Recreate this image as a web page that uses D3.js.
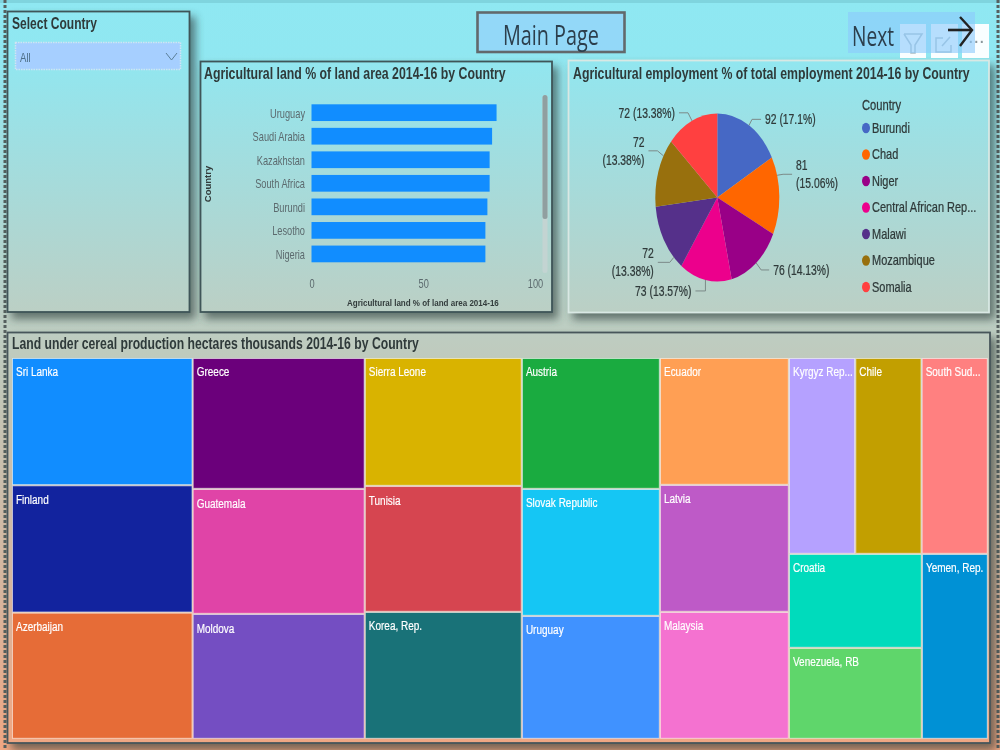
<!DOCTYPE html>
<html><head><meta charset="utf-8">
<script src="https://cdn.jsdelivr.net/npm/d3@7"></script>
<style>
html,body{margin:0;padding:0;background:#8fe8f2;overflow:hidden}
svg{display:block;filter:blur(0.35px)}
text{font-family:"Liberation Sans",sans-serif}
.light{font-family:"Open Sans","Noto Sans",sans-serif;font-weight:400}
</style></head><body>
<script>
// ---------- data ----------
const barCountries = ["Uruguay","Saudi Arabia","Kazakhstan","South Africa","Burundi","Lesotho","Nigeria"];
const barValues = [82.8,80.8,79.7,79.7,78.7,77.8,77.8];
const barTicks = [0,50,100];
const pieCountries = ["Burundi","Chad","Niger","Central African Rep...","Malawi","Mozambique","Somalia"];
const pieValues = [92,81,76,73,72,72,72];
const pieColors = ["#4668c5","#ff6600","#990087","#ec008c","#55308a","#98700d","#ff4040"];
const treeCountries = ["Sri Lanka","Finland","Azerbaijan","Greece","Guatemala","Moldova","Sierra Leone","Tunisia","Korea, Rep.","Austria","Slovak Republic","Uruguay","Ecuador","Latvia","Malaysia","Kyrgyz Rep...","Chile","South Sud...","Croatia","Venezuela, RB","Yemen, Rep."];
const treeValues = [1000,1000,992,980,935,935,874,860,867,786,762,738,712,712,712,565,565,565,543,526,531];
const treeColumns = [0,0,0,1,1,1,2,2,2,3,3,3,4,4,4,5,5,5,5,5,5];
const treeBlocks = [0,1,2,0,1,2,0,1,2,0,1,2,0,1,2,0,0,0,1,1,1];
const treeSubs = [0,0,0,0,0,0,0,0,0,0,0,0,0,0,0,0,1,2,0,0,1];
const treeColors = ["#118dff","#12239e","#e66c37","#6b007b","#e044a7","#744ec2","#d9b300","#d64550","#197278","#1aab40","#15c6f4","#4092ff","#ff9f54","#be5ac7","#f472d0","#b5a1ff","#c29f00","#ff8080","#00dbbc","#5fd66b","#0091d5"];

// ---------- page ----------
const W=1000,H=750;
const svg=d3.select("body").append("svg").attr("width",W).attr("height",H);
const defs=svg.append("defs");
const grad=defs.append("linearGradient").attr("id","bg").attr("gradientUnits","userSpaceOnUse")
  .attr("x1",0).attr("y1",0).attr("x2",0).attr("y2",H);
[[0,"#8fe8f2"],[0.07,"#90e7f1"],[0.42,"#bccfc4"],[0.55,"#c4c4b4"],[0.8,"#d8b49c"],[1,"#f0a682"]]
  .forEach(([o,c])=>grad.append("stop").attr("offset",o).attr("stop-color",c));
const blur=defs.append("filter").attr("id","sh").attr("x","-10%").attr("y","-10%").attr("width","120%").attr("height","125%");
blur.append("feGaussianBlur").attr("stdDeviation",4);

svg.append("rect").attr("width",W).attr("height",H).attr("fill","url(#bg)");
svg.append("rect").attr("width",W).attr("height",3).attr("fill","#7fd4de");

function panel(x0,y0,x1,y1,stroke){
  svg.append("rect").attr("x",x0+4).attr("y",y0+5).attr("width",x1-x0+2).attr("height",y1-y0+2)
    .attr("fill","#2c3a38").attr("opacity",0.62).attr("filter","url(#sh)");
  svg.append("rect").attr("x",x0).attr("y",y0).attr("width",x1-x0).attr("height",y1-y0)
    .attr("fill","url(#bg)").attr("stroke",stroke).attr("stroke-width",1.8);
}
function title(txt,x,y,len,size){
  return svg.append("text").attr("x",x).attr("y",y).text(txt).attr("font-size",size||16).attr("font-weight",700)
    .attr("fill","#2f3a3a").attr("data-w",len);
}

// edge dotted lines
[5,998].forEach(x=>svg.append("line").attr("x1",x).attr("x2",x).attr("y1",0).attr("y2",H)
  .attr("stroke","#56605f").attr("stroke-width",3).attr("stroke-dasharray","3 2"));

panel(7.5,11.5,189.5,312,"#3f5558");
panel(200.5,61.5,552,312,"#3f5558");
panel(568.5,60.5,989,312.5,"#d9e8e4");
panel(7.5,332.5,990,743,"#47565a");

// ---------- slicer ----------
title("Select Country",12,29,85,16);
svg.append("rect").attr("x",15.5).attr("y",42.5).attr("width",165).attr("height",27)
  .attr("fill","#a6cfff").attr("stroke","#cfe4f4").attr("stroke-width",1.5).attr("stroke-dasharray","1.5 1");
svg.append("text").attr("x",20).attr("y",62).text("All").attr("font-size",13).attr("fill","#4e6f88");
svg.append("path").attr("d",d3.line()([[166,53],[171.5,60],[177,53]])).attr("fill","none").attr("stroke","#5b7f98").attr("stroke-width",1);

// ---------- buttons ----------
const iconBoxes=[[900,26],[931,27],[962,27]];
iconBoxes.forEach(([x,w])=>svg.append("rect").attr("x",x).attr("y",24).attr("width",w).attr("height",34).attr("fill","#ffffff").attr("opacity",.95));
svg.append("path").attr("d",d3.line()([[904,34],[922,34],[915,45],[915,53],[911,53],[911,45],[904,34]])).attr("fill","none").attr("stroke","#a9bcc4").attr("stroke-width",1.5);
svg.append("path").attr("d",d3.line()([[943,38],[936,38],[936,52],[951,52],[951,45]])).attr("fill","none").attr("stroke","#a9bcc4").attr("stroke-width",1.5);
svg.append("path").attr("d",d3.line()([[942,46],[950,37]])).attr("fill","none").attr("stroke","#a9bcc4").attr("stroke-width",1.5);
svg.append("text").attr("x",968).attr("y",43).text("...").attr("font-size",20).attr("fill","#8a979c").attr("data-k",1);
svg.append("rect").attr("x",848).attr("y",12).attr("width",127).attr("height",41).attr("fill","#8ccafc").attr("opacity",.62);
svg.append("text").attr("class","light").attr("x",852).attr("y",46).text("Next").attr("font-size",27).attr("fill","#2c3e4c").attr("data-w",42);
svg.append("path").attr("d",d3.line()([[948,30],[972,30]])).attr("stroke","#222").attr("stroke-width",2.6);
svg.append("path").attr("d",d3.line()([[960,17],[972,30],[960,46]])).attr("fill","none").attr("stroke","#222").attr("stroke-width",2.4);
svg.append("rect").attr("x",477.5).attr("y",12.5).attr("width",147).attr("height",39.5).attr("fill","#93d8f8").attr("stroke","#62696c").attr("stroke-width",2.6);
svg.append("text").attr("class","light").attr("x",503).attr("y",45).text("Main Page").attr("font-size",27).attr("fill","#2c3e4c").attr("data-w",96);

// ---------- bar chart ----------
title("Agricultural land % of land area 2014-16 by Country",204,79,302,16);
const xBar=d3.scaleLinear().domain([0,100]).range([311.5,535]);
const yBar=d3.scaleBand().domain(barCountries).range([100.9,265.7]).paddingInner(.29).paddingOuter(.145);
const gBar=svg.append("g");
gBar.selectAll("rect").data(barCountries).join("rect")
  .attr("x",xBar(0)).attr("y",d=>yBar(d)).attr("height",yBar.bandwidth())
  .attr("width",(d,i)=>xBar(barValues[i])-xBar(0)).attr("fill","#118dff");
const axL=svg.append("g").attr("transform","translate(311.5,1)").call(d3.axisLeft(yBar).tickSize(0).tickPadding(6.5));
axL.select(".domain").remove();
axL.selectAll("text").attr("font-size",12.5).attr("fill","#5c6a6e");
const axB=svg.append("g").attr("transform","translate(0,279)").call(d3.axisBottom(xBar).tickValues(barTicks).tickSize(0).tickPadding(0));
axB.select(".domain").remove();
axB.selectAll("text").attr("font-size",12.5).attr("fill","#5c6a6e");
axL.attr("font-family",null);axB.attr("font-family",null);
svg.append("text").attr("x",347).attr("y",306.5).text("Agricultural land % of land area 2014-16").attr("font-size",9.5).attr("font-weight",700).attr("fill","#333c3c").attr("data-w",152);
svg.append("text").attr("transform","translate(211,184) rotate(-90)").attr("text-anchor","middle").text("Country")
  .attr("font-size",9.5).attr("font-weight",700).attr("fill","#333c3c").attr("data-k",1);
svg.append("rect").attr("x",542.5).attr("y",95).attr("width",5).attr("height",178).attr("rx",2.5).attr("fill","#c3d4d2");
svg.append("rect").attr("x",542.5).attr("y",95).attr("width",5).attr("height",124).attr("rx",2.5).attr("fill","#909fa0");

// ---------- pie ----------
title("Agricultural employment % of total employment 2014-16 by Country",573,79,397,16);
const pieCx=717.3,pieCy=197.5,pieRy=84,pieSx=62/84;
const total=d3.sum(pieValues);
const arcs=d3.pie().sort(null)(pieValues);
const arcGen=d3.arc().innerRadius(0).outerRadius(pieRy);
svg.append("g").attr("transform",`translate(${pieCx},${pieCy}) scale(${pieSx},1)`)
  .selectAll("path").data(arcs).join("path").attr("d",arcGen).attr("fill",(d,i)=>pieColors[i]);
// leader layout per slice: angle nudge (deg), elbow offset, run length, wrapped label
const leaderLayout=[
  {nudge:0,ex:3,ey:-6,run:9,wrap:false},
  {nudge:-14,ex:6,ey:-1,run:9,wrap:true},
  {nudge:0,ex:5,ey:7,run:8,wrap:false},
  {nudge:0,ex:0,ey:11,run:-10,wrap:false},
  {nudge:-15,ex:-4,ey:5,run:-12,wrap:true},
  {nudge:12,ex:-6,ey:-5,run:-9,wrap:true},
  {nudge:0,ex:-4,ey:-8,run:-9,wrap:false}
];
const gLab=svg.append("g");
arcs.forEach((a,i)=>{
  const L=leaderLayout[i];
  const mid=(a.startAngle+a.endAngle)/2+L.nudge*Math.PI/180;
  const sx=pieCx+pieRy*pieSx*Math.sin(mid), sy=pieCy-pieRy*Math.cos(mid);
  const ex=sx+L.ex, ey=sy+L.ey, tx=ex+L.run;
  gLab.append("path").attr("d",d3.line()([[sx,sy],[ex,ey],[tx,ey]])).attr("fill","none").attr("stroke","#7c8a88").attr("stroke-width",1);
  const right=L.run>0, ax=tx+(right?4:-4);
  const pct=`(${+(a.value/total*100).toFixed(2)}%)`;
  const lines=L.wrap?[String(a.value),pct]:[`${a.value} ${pct}`];
  lines.forEach((s,k)=>gLab.append("text").attr("x",ax).attr("y",ey+5+(L.wrap?(k-.5)*18:0))
    .attr("text-anchor",right?"start":"end").text(s).attr("font-size",14).attr("fill","#2f3a3a").attr("stroke","#2f3a3a").attr("stroke-width",.25));
});
// legend
svg.append("text").attr("x",862).attr("y",110).text("Country").attr("font-size",14).attr("fill","#2f3a3a").attr("stroke","#2f3a3a").attr("stroke-width",.25).attr("data-k",.8);
const yLeg=d3.scalePoint().domain(pieCountries).range([128,287]);
pieCountries.forEach((c,i)=>{
  svg.append("ellipse").attr("cx",866).attr("cy",yLeg(c)).attr("rx",4).attr("ry",5.2).attr("fill",pieColors[i]);
  svg.append("text").attr("x",872).attr("y",yLeg(c)+5).text(c).attr("font-size",14).attr("fill","#2f3a3a").attr("stroke","#2f3a3a").attr("stroke-width",.25).attr("data-k",.785);
});

// ---------- treemap ----------
title("Land under cereal production hectares thousands 2014-16 by Country",12,349,407,16);
const treeRows=treeCountries.map((c,i)=>({name:c,value:treeValues[i],col:treeColumns[i],block:treeBlocks[i],sub:treeSubs[i],color:treeColors[i]}));
const grouped=d3.group(treeRows,d=>d.col,d=>d.block,d=>d.sub);
const root=d3.hierarchy([null,grouped],([,v])=>v instanceof Map?[...v]:Array.isArray(v)?v.map(r=>[null,r]):null)
  .sum(([,v])=>(v&&v.name)?v.value:0);
d3.treemap().size([976,381]).round(false).tile((node,x0,y0,x1,y1)=>{
  (node.depth%2===0?d3.treemapDice:d3.treemapSlice)(node,x0,y0,x1,y1);
})(root);
const gTree=svg.append("g").attr("transform","translate(12,358)");
const leaves=root.leaves();
gTree.selectAll("rect").data(leaves).join("rect")
  .attr("x",d=>d.x0+.5).attr("y",d=>d.y0+.5)
  .attr("width",d=>d.x1-d.x0-1.2).attr("height",d=>d.y1-d.y0-1.2)
  .attr("fill",d=>d.data[1].color).attr("stroke","#ffffff").attr("stroke-opacity",.55).attr("stroke-width",1);
gTree.selectAll("text").data(leaves).join("text")
  .attr("x",d=>d.x0+4).attr("y",d=>d.y0+18.5).text(d=>d.data[1].name)
  .attr("font-size",13.5).attr("fill","#ffffff").attr("stroke","#ffffff").attr("stroke-width",.2);

// narrow the text horizontally to match the condensed face of the reference
svg.selectAll("text").each(function(){
  const t=d3.select(this);
  const w=this.getComputedTextLength();
  const k=t.attr("data-w")?(+t.attr("data-w"))/w:+(t.attr("data-k")||.74);
  if(k===1)return;
  const x=+(t.attr("x")||0), y=+(t.attr("y")||0);
  t.attr("transform",`translate(${x},${y}) scale(${k},1) translate(${-x},${-y})`);
});
</script>
</body></html>
